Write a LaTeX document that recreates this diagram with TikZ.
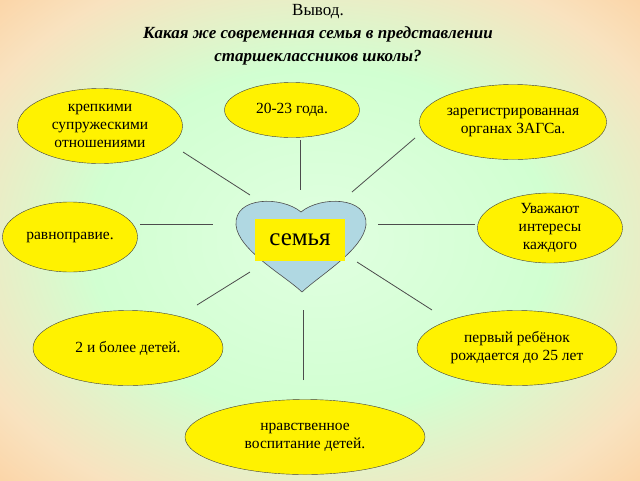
\documentclass[tikz,border=0pt]{standalone}
\usepackage{fontspec}
\setmainfont{Liberation Serif}
\usetikzlibrary{shapes.geometric}
\definecolor{heartblue}{RGB}{176,216,226}
\pgfdeclareradialshading{glow}{\pgfpoint{0bp}{0bp}}{%
  color(0bp)=(green!12!white);
  color(18bp)=(green!18!white);
  color(30bp)=(green!10!orange!25!white);
  color(42bp)=(orange!45!white);
  color(50bp)=(orange!50!white)}
\tikzset{
  idea/.style={ellipse, draw=black!75, fill=yellow, align=center, inner sep=0pt,
    font=\fontsize{15.5}{18}\selectfont},
  ray/.style={draw=black!70, line width=0.8pt}
}
\begin{document}
\begin{tikzpicture}[x=1pt,y=-1pt]
  \useasboundingbox (0,0) rectangle (640,480);
  \shade[shading=glow] (0,0) rectangle (640,480);
  % title
  \node (head) at (318,12) {\fontsize{17}{19}\selectfont Вывод.};
  \node (quest) at (318,46) [align=center, font=\fontsize{17}{23}\selectfont\bfseries\itshape]
    {Какая же современная семья в представлении\\старшеклассников школы?};
  % ideas
  \node[idea, minimum width=165, minimum height=75] (strong) at (100,126) {крепкими\\супружескими\\отношениями};
  \node[idea, minimum width=135, minimum height=55] (age) at (292,110) {20-23 года.};
  \node[idea, minimum width=165, minimum height=75] (zags) at (513,122) {зарегистрированная\\органах ЗАГСа.};
  \node[idea, minimum width=135, minimum height=70] (equal) at (70,237) {равноправие.};
  \node[idea, minimum width=145, minimum height=70] (respect) at (550,228) {Уважают\\интересы\\каждого};
  \node[idea, minimum width=190, minimum height=75] (kids) at (128,348) {2 и более детей.};
  \node[idea, minimum width=200, minimum height=75] (first) at (517,348) {первый ребёнок\\рождается до 25 лет};
  \node[idea, minimum width=240, minimum height=75] (moral) at (305,437) {нравственное\\воспитание детей.};
  % heart
  \draw[fill=heartblue, draw=black!70, line width=0.6pt]
    (301,212) .. controls (320,196) and (368,196) .. (366,225)
    .. controls (363,250) and (320,275) .. (302,292)
    .. controls (284,275) and (238,250) .. (236,225)
    .. controls (234,196) and (282,196) .. (301,212) -- cycle;
  \node[fill=yellow, minimum width=90, minimum height=42, inner sep=0pt,
    font=\fontsize{25}{27}\selectfont] (family) at (300,240) {семья};
  % rays
  \coordinate (r1a) at (183,152); \coordinate (r1b) at (250,195);
  \coordinate (r2a) at (300,140); \coordinate (r2b) at (300,190);
  \coordinate (r3a) at (415,138); \coordinate (r3b) at (352,192);
  \coordinate (r4a) at (140,224); \coordinate (r4b) at (213,224);
  \coordinate (r5a) at (475,224); \coordinate (r5b) at (378,224);
  \coordinate (r6a) at (197,305); \coordinate (r6b) at (250,272);
  \coordinate (r7a) at (303,380); \coordinate (r7b) at (303,310);
  \coordinate (r8a) at (432,310); \coordinate (r8b) at (357,262);
  \foreach \i in {1,...,8}
    \draw[ray] (r\i a) -- (r\i b);
\end{tikzpicture}
\end{document}
